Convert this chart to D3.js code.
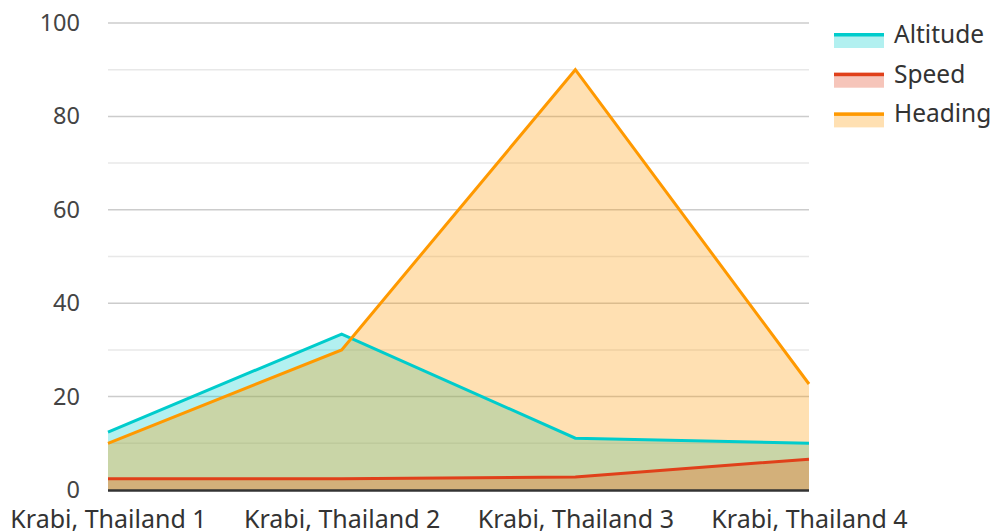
<!DOCTYPE html>
<html>
<head>
<meta charset="utf-8">
<script src="https://cdn.jsdelivr.net/npm/d3@7"></script>
<style>
  body { margin: 0; background: #fff; }
  svg { display: block; font-family: "Noto Sans", "Open Sans", sans-serif; }
</style>
</head>
<body>
<svg id="chart" width="995" height="531"></svg>
<script>
// Chart data
const categories = ["Krabi, Thailand 1", "Krabi, Thailand 2", "Krabi, Thailand 3", "Krabi, Thailand 4"];
const altitude = [12.4, 33.4, 11.1, 10];
const speed = [2.4, 2.4, 2.8, 6.6];
const heading = [10, 30, 90, 22.7];
const yTicks = [0, 20, 40, 60, 80, 100];

const seriesList = [
  { name: "Altitude", values: altitude, color: "#00cccc" },
  { name: "Speed", values: speed, color: "#e0401a" },
  { name: "Heading", values: heading, color: "#ff9900" }
];

const margin = { left: 108, right: 186, top: 23, bottom: 41 };
const W = 995, H = 531;

const svg = d3.select("#chart");

const xScale = d3.scalePoint()
  .domain(categories)
  .range([margin.left, W - margin.right]);

const yScale = d3.scaleLinear()
  .domain([0, 100])
  .range([H - margin.bottom, margin.top]);

/* gridlines: every 10, darker on the labelled ticks */
const grid = svg.append("g").attr("class", "grid");
d3.range(10, 101, 10).forEach(v => {
  grid.append("line")
    .attr("x1", margin.left)
    .attr("x2", W - margin.right)
    .attr("y1", yScale(v))
    .attr("y2", yScale(v))
    .attr("stroke", v % 20 === 0 ? "#cccccc" : "#e8e8e8")
    .attr("stroke-width", 1.5);
});

/* fills first, then lines on top */
const area = d3.area()
  .x((d, i) => xScale(categories[i]))
  .y0(yScale(0))
  .y1(d => yScale(d));

const line = d3.line()
  .x((d, i) => xScale(categories[i]))
  .y(d => yScale(d));

svg.append("g").attr("class", "areas")
  .selectAll("path")
  .data(seriesList)
  .join("path")
  .attr("d", s => area(s.values))
  .attr("fill", s => s.color)
  .attr("fill-opacity", 0.3);

svg.append("g").attr("class", "lines")
  .selectAll("path")
  .data(seriesList)
  .join("path")
  .attr("d", s => line(s.values))
  .attr("fill", "none")
  .attr("stroke", s => s.color)
  .attr("stroke-width", 3)
  .attr("stroke-linejoin", "miter");

// baseline
svg.append("line")
  .attr("x1", margin.left)
  .attr("x2", W - margin.right)
  .attr("y1", yScale(0) + 0.5)
  .attr("y2", yScale(0) + 0.5)
  .attr("stroke", "#333")
  .attr("stroke-width", 2.5);

// y axis
const yAxis = d3.axisLeft(yScale).tickValues(yTicks).tickSize(0).tickPadding(28);
const gy = svg.append("g")
  .attr("transform", `translate(${margin.left},0)`)
  .call(yAxis);
gy.select(".domain").remove();
gy.selectAll("text")
  .attr("fill", "#444")
  .style("font-size", "23.5px")
  .style("font-family", "'Noto Sans', 'Open Sans', sans-serif");

// x axis
const xAxis = d3.axisBottom(xScale).tickSize(0).tickPadding(20);
const gx = svg.append("g")
  .attr("transform", `translate(0,${H - margin.bottom})`)
  .call(xAxis);
gx.select(".domain").remove();
gx.selectAll("text")
  .attr("fill", "#333")
  .style("font-size", "25px")
  .style("font-family", "'Noto Sans', 'Open Sans', sans-serif");

// legend
const legend = svg.append("g")
  .attr("transform", "translate(834,33)");
const rows = legend.selectAll("g")
  .data(seriesList)
  .join("g")
  .attr("transform", (d, i) => `translate(0,${i * 39.7})`);
rows.append("rect")
  .attr("x", 0).attr("y", 0)
  .attr("width", 50).attr("height", 15)
  .attr("fill", d => d.color)
  .attr("fill-opacity", 0.3);
rows.append("rect")
  .attr("x", 0).attr("y", 0)
  .attr("width", 50).attr("height", 3.5)
  .attr("fill", d => d.color);
rows.append("text")
  .attr("x", 60)
  .attr("y", 10)
  .attr("fill", "#333")
  .style("font-size", "24.5px")
  .text(d => d.name);
</script>
</body>
</html>
